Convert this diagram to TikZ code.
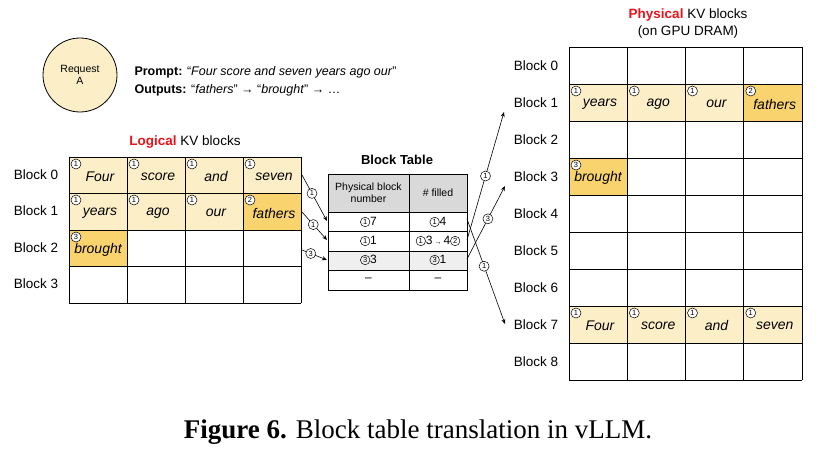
\documentclass[tikz,border=0pt]{standalone}
\usepackage{fontspec}
\setmainfont{Liberation Sans}
\newfontfamily\capfont{Liberation Serif}
\usetikzlibrary{arrows.meta}
\definecolor{lt}{HTML}{FCEFC8}
\definecolor{dk}{HTML}{F9D46E}
\definecolor{hd}{HTML}{D9D9D9}
\definecolor{gr}{HTML}{EFEFEF}
\definecolor{rd}{HTML}{E8141B}
\newcommand{\cnum}[1]{\tikz[baseline=-0.6ex]\node[circle,draw,line width=0.5pt,inner sep=0.6pt,minimum size=9.5pt,font=\fontsize{7.5}{7}\selectfont]{#1};}
\tikzset{
 cell/.style={draw,line width=0.8pt},
 lbl/.style={font=\fontsize{13.5}{13}\selectfont},
 wrd/.style={font=\fontsize{14}{14}\selectfont\itshape},
 arr/.style={-{Stealth[length=5pt,width=4pt]},line width=0.6pt},
 cn/.style={circle,draw,fill=white,line width=0.5pt,inner sep=0.6pt,minimum size=10pt,font=\fontsize{7.5}{7}\selectfont},
}
\begin{document}
\begin{tikzpicture}[x=1pt,y=-1pt]
\useasboundingbox (0,0) rectangle (836,462);
% Request
\node[circle,draw,fill=lt,line width=0.8pt,minimum size=74pt,align=center,font=\fontsize{10.5}{12}\selectfont] (req) at (80,75) {Request\\A};
\node[anchor=west,font=\fontsize{12.5}{13}\selectfont] (prompt) at (131,72) {\textbf{Prompt:} “\textit{Four score and seven years ago our}”};
\node[anchor=west,font=\fontsize{12.5}{13}\selectfont] (outs) at (131,90) {\textbf{Outputs:} “\textit{fathers}” → “\textit{brought}” → …};
% Logical
\node[lbl] (ltitle) at (185,142) {\textbf{\color{rd}Logical} KV blocks};
\foreach \r/\y in {0/157,1/193,2/230,3/266}{
  \node[lbl] (lb\r) at (36,\y+18) {Block \r};
}
\fill[lt] (69,157) rectangle (301,230);
\fill[dk] (243,193) rectangle (301,230);
\fill[dk] (69,230) rectangle (127,266);
\foreach \y in {157,193.5,230,266.5,303} \draw[cell] (69,\y) -- (301,\y);
\foreach \x in {69,127,185,243,301} \draw[cell] (\x,157) -- (\x,303);
\foreach \x/\w/\n in {69/Four/1,127/score/1,185/and/1,243/seven/1}{
  \node[cn] at (\x+7,164) {\n}; \node[wrd] at (\x+31,177) {\w};}
\foreach \x/\w/\n in {69/years/1,127/ago/1,185/our/1,243/fathers/2}{
  \node[cn] at (\x+7,200) {\n}; \node[wrd] at (\x+31,213) {\w};}
\node[cn] at (76,237) {3}; \node[wrd] at (98,250) {brought};
% Block table
\node[font=\fontsize{13}{13}\selectfont\bfseries] (btt) at (397,160) {Block Table};
\fill[hd] (328,174) rectangle (467,212);
\fill[gr] (328,251) rectangle (467,270);
\draw[cell] (328,174) rectangle (467,290);
\draw[cell] (409,174) -- (409,290);
\foreach \y in {212,231,251,270} \draw[cell] (328,\y) -- (467,\y);
\node[align=center,font=\fontsize{10.5}{12}\selectfont] at (368.5,193) {Physical block\\number};
\node[font=\fontsize{10.5}{11}\selectfont] at (438,193) {\# filled};
\node[font=\fontsize{12}{11}\selectfont] (p0) at (368.5,222) {\cnum{1}7};
\node[font=\fontsize{12}{11}\selectfont] (p1) at (368.5,241) {\cnum{1}1};
\node[font=\fontsize{12}{11}\selectfont] (p2) at (368.5,260) {\cnum{3}3};
\node[font=\fontsize{12}{11}\selectfont] at (368.5,280) {–};
\node[font=\fontsize{12}{11}\selectfont] at (438,222) {\cnum{1}4};
\node[font=\fontsize{12}{11}\selectfont] at (438,241) {\cnum{1}3\,{\scriptsize→}\,4\cnum{2}};
\node[font=\fontsize{12}{11}\selectfont] at (438,260) {\cnum{3}1};
\node[font=\fontsize{12}{11}\selectfont] at (438,280) {–};
% Physical
\node[lbl] (ptitle) at (688,15) {\textbf{\color{rd}Physical} KV blocks};
\node[lbl] (ptitle2) at (688,32) {(on GPU DRAM)};
\fill[lt] (569,84) rectangle (802,121);
\fill[dk] (743,84) rectangle (802,121);
\fill[dk] (569,158) rectangle (627,195);
\fill[lt] (569,306) rectangle (802,343);
\foreach \r in {0,...,8}{
  \node[lbl] (pb\r) at (536,65.5+\r*37) {Block \r};
  \draw[cell] (569,47+\r*37) -- (802,47+\r*37);
}
\draw[cell] (569,380) -- (802,380);
\foreach \x in {569,627.25,685.5,743.75,802} \draw[cell] (\x,47) -- (\x,380);
\foreach \x/\w/\n in {569/years/1,627.25/ago/1,685.5/our/1,743.75/fathers/2}{
  \node[cn] at (\x+7,91) {\n}; \node[wrd] at (\x+31,104) {\w};}
\node[cn] at (576,165) {3}; \node[wrd] at (598,178) {brought};
\foreach \x/\w in {569/Four,627.25/score,685.5/and,743.75/seven}{
  \node[cn] at (\x+7,313) {1}; \node[wrd] at (\x+31,326) {\w};}
% arrows
\coordinate (a0) at (302,175); \coordinate (a1) at (302,212); \coordinate (a2) at (302,250);
\coordinate (t0) at (327,221); \coordinate (t1) at (327,240); \coordinate (t2) at (327,260);
\draw[arr] (a0) -- node[cn,pos=0.4]{1} (t0);
\draw[arr] (a1) -- node[cn,pos=0.45]{1} (t1);
\draw[arr] (a2) -- node[cn,pos=0.35]{3} (t2);
\coordinate (r0) at (467,219); \coordinate (r1) at (467,240); \coordinate (r2) at (467,259);
\coordinate (q7) at (505,324); \coordinate (q1) at (504,112); \coordinate (q3) at (505,186);
\draw[arr] (r1) -- node[cn,pos=0.5]{1} (q1);
\draw[arr] (r2) -- node[cn,pos=0.55]{3} (q3);
\draw[arr] (r0) -- node[cn,pos=0.45]{1} (q7);
% caption
\node[font=\capfont\fontsize{27}{30}\selectfont] (cap) at (418,432) {\textbf{Figure 6.} Block table translation in vLLM.};
\end{tikzpicture}
\end{document}
